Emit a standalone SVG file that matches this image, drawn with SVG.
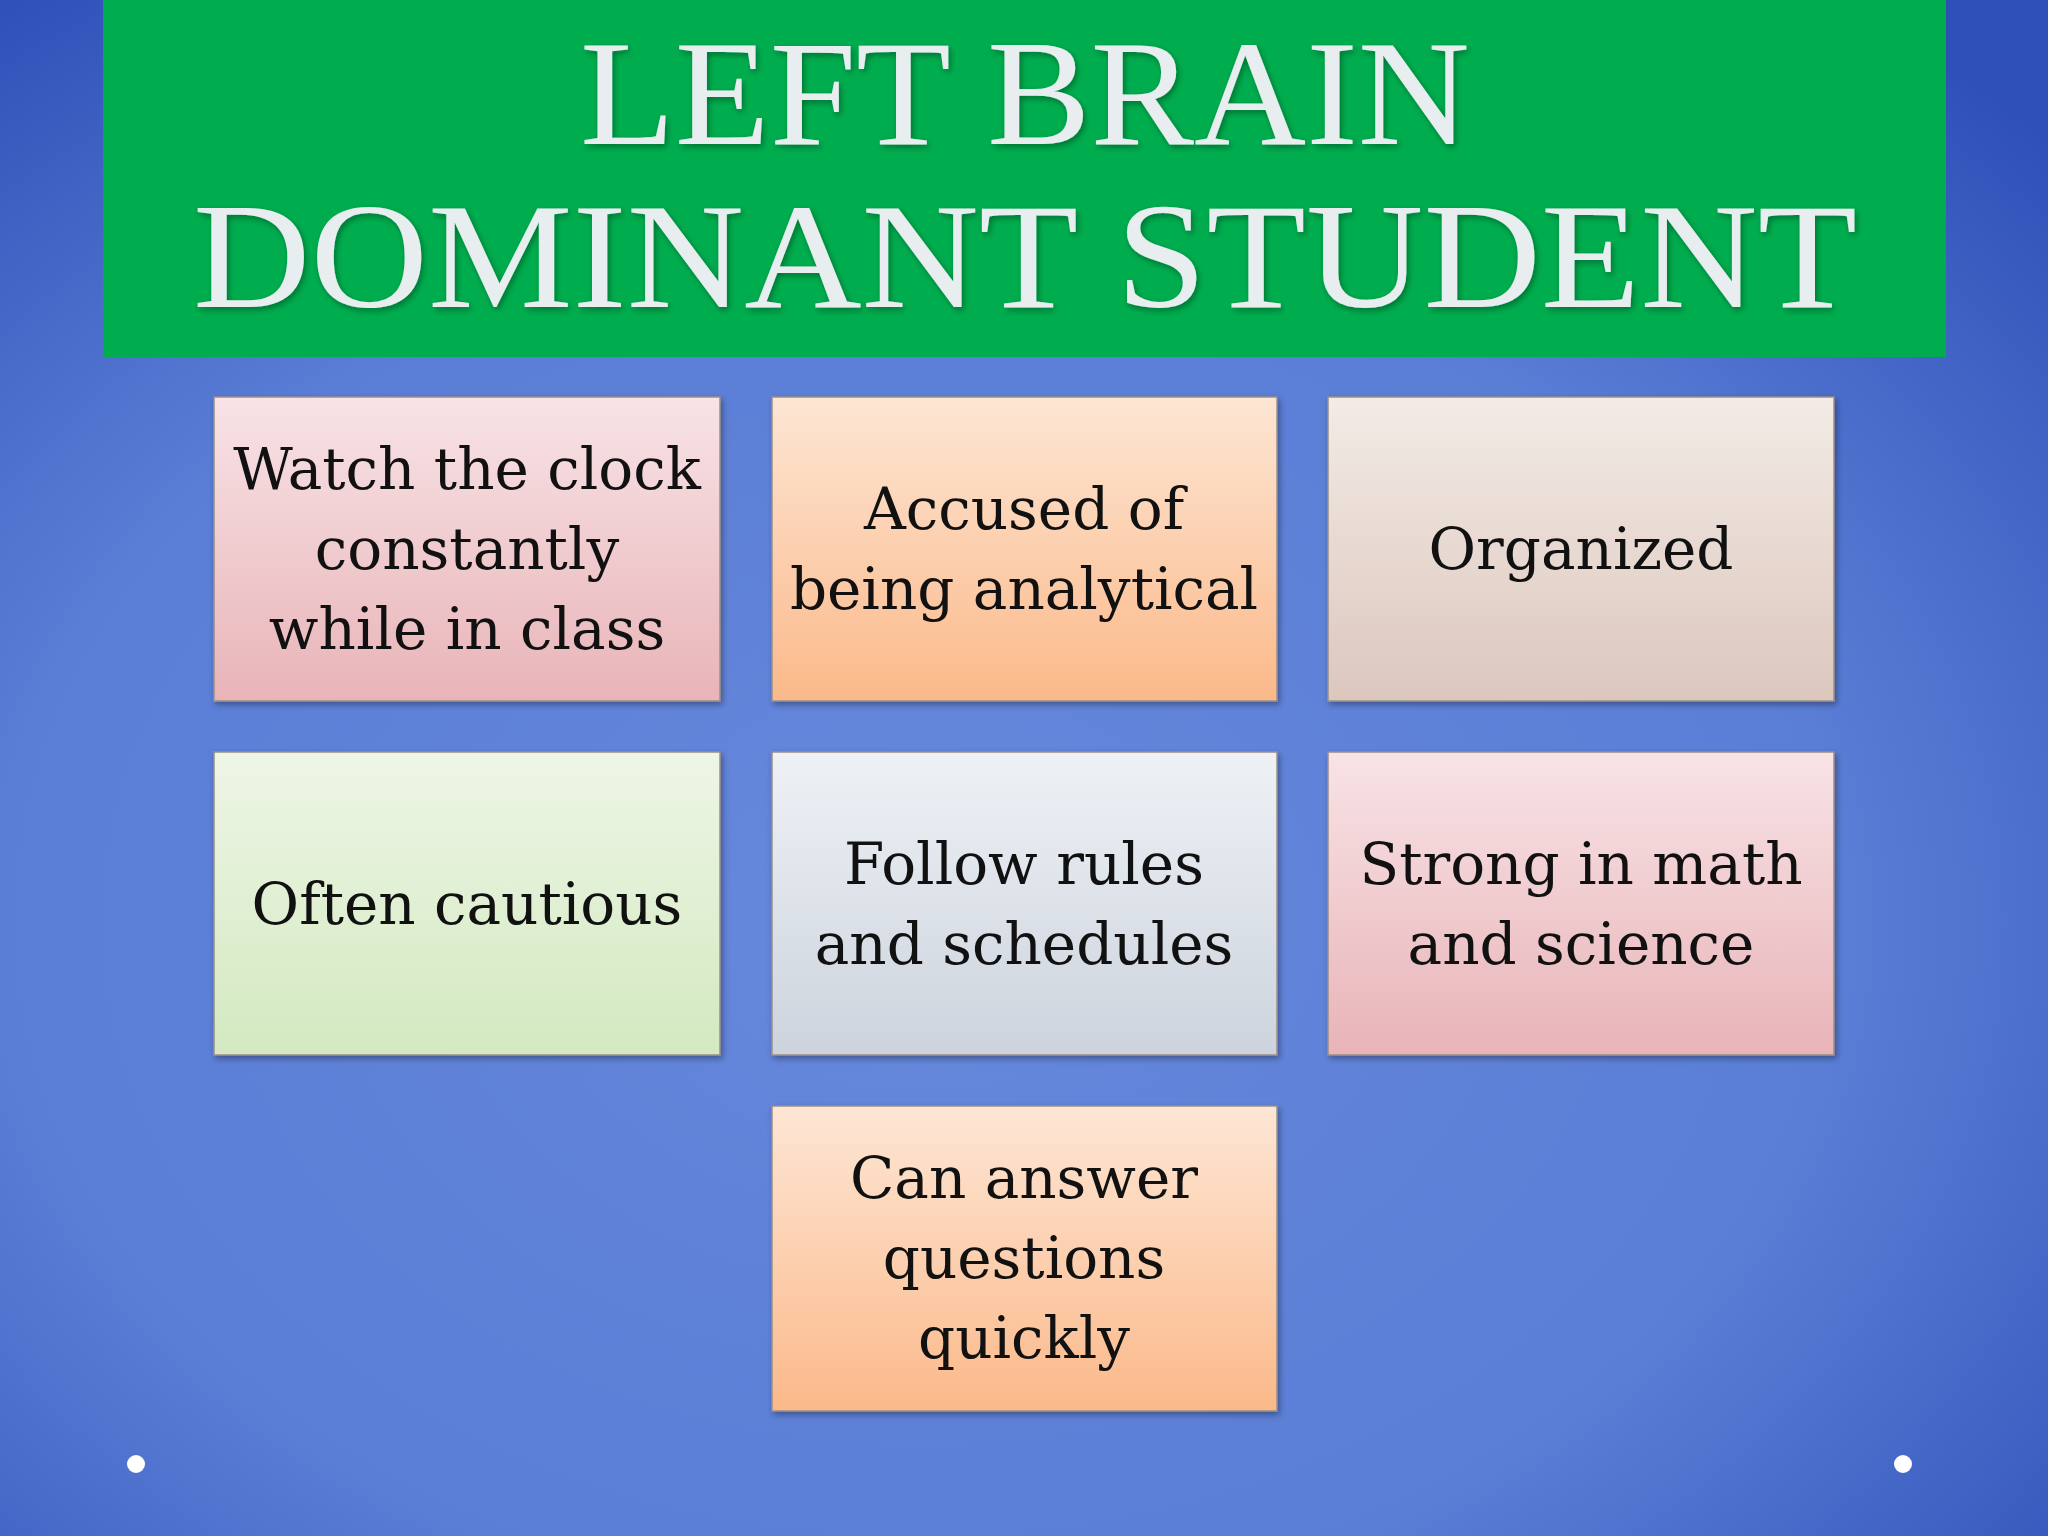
<svg xmlns="http://www.w3.org/2000/svg" width="2048" height="1536" viewBox="0 0 2048 1536">
<defs>
<radialGradient id="bg" cx="0.45" cy="0.6" r="0.75">
<stop offset="0" stop-color="#6688dc"/><stop offset="0.6" stop-color="#5a7ed6"/><stop offset="1" stop-color="#2f50b8"/>
</radialGradient>
<linearGradient id="pink" x1="0" y1="0" x2="0" y2="1"><stop offset="0" stop-color="#f8e3e6"/><stop offset="1" stop-color="#e8b4b8"/></linearGradient>
<linearGradient id="orange" x1="0" y1="0" x2="0" y2="1"><stop offset="0" stop-color="#fde6d4"/><stop offset="1" stop-color="#fbb98a"/></linearGradient>
<linearGradient id="tan" x1="0" y1="0" x2="0" y2="1"><stop offset="0" stop-color="#f3ebe6"/><stop offset="1" stop-color="#dcc7bd"/></linearGradient>
<linearGradient id="green" x1="0" y1="0" x2="0" y2="1"><stop offset="0" stop-color="#eef6e6"/><stop offset="1" stop-color="#d3e9c0"/></linearGradient>
<linearGradient id="grey" x1="0" y1="0" x2="0" y2="1"><stop offset="0" stop-color="#eef2f6"/><stop offset="1" stop-color="#cdd3dd"/></linearGradient>
<filter id="sh" x="-10%" y="-10%" width="120%" height="120%"><feDropShadow dx="2" dy="3" stdDeviation="3" flood-color="#000" flood-opacity="0.35"/></filter>
</defs>
<style>
.box{stroke:#9a8f8a;stroke-width:1.5;filter:url(#sh)}
.t{font-family:"DejaVu Serif","Liberation Serif",serif;font-size:58px;fill:#111;text-anchor:middle}
.title{font-family:"Liberation Serif",serif;font-size:150px;fill:#e8eef0;text-anchor:middle;filter:url(#sh)}
</style>
<rect width="2048" height="1536" fill="url(#bg)"/>
<g id="banner">
<rect x="103" y="0" width="1843" height="357" fill="#00ad4e"/>
<text class="title" x="1025" y="144" textLength="890" lengthAdjust="spacingAndGlyphs">LEFT BRAIN</text>
<text class="title" x="1025" y="307" textLength="1664" lengthAdjust="spacingAndGlyphs">DOMINANT STUDENT</text>
</g>
<g id="n1"><rect class="box" x="214" y="397" width="506" height="304" fill="url(#pink)"/>
<text class="t" x="467" y="489">Watch the clock</text><text class="t" x="467" y="569">constantly</text><text class="t" x="467" y="649">while in class</text></g>
<g id="n2"><rect class="box" x="772" y="397" width="505" height="304" fill="url(#orange)"/>
<text class="t" x="1024" y="529">Accused of</text><text class="t" x="1024" y="609">being analytical</text></g>
<g id="n3"><rect class="box" x="1328" y="397" width="506" height="304" fill="url(#tan)"/>
<text class="t" x="1581" y="569">Organized</text></g>
<g id="n4"><rect class="box" x="214" y="752" width="506" height="303" fill="url(#green)"/>
<text class="t" x="467" y="924">Often cautious</text></g>
<g id="n5"><rect class="box" x="772" y="752" width="505" height="303" fill="url(#grey)"/>
<text class="t" x="1024" y="884">Follow rules</text><text class="t" x="1024" y="964">and schedules</text></g>
<g id="n6"><rect class="box" x="1328" y="752" width="506" height="303" fill="url(#pink)"/>
<text class="t" x="1581" y="884">Strong in math</text><text class="t" x="1581" y="964">and science</text></g>
<g id="n7"><rect class="box" x="772" y="1106" width="505" height="305" fill="url(#orange)"/>
<text class="t" x="1024" y="1198">Can answer</text><text class="t" x="1024" y="1278">questions</text><text class="t" x="1024" y="1358">quickly</text></g>
<g id="connectors"/>
<circle cx="136" cy="1464" r="9" fill="#fff"/>
<circle cx="1903" cy="1464" r="9" fill="#fff"/>
</svg>
